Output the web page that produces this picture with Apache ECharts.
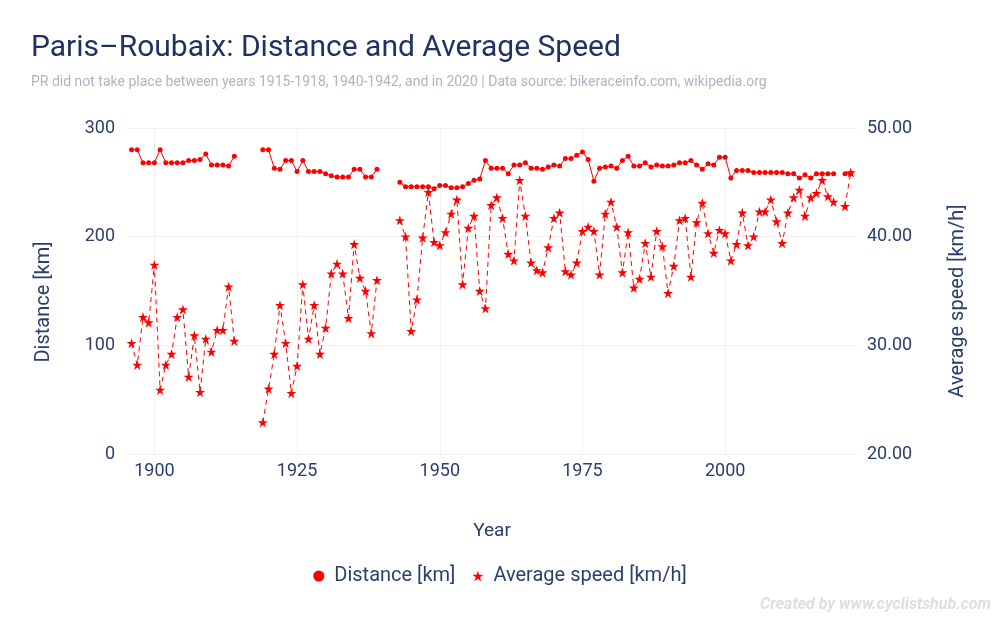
<!DOCTYPE html>
<html>
<head>
<meta charset="utf-8">
<title>Paris–Roubaix: Distance and Average Speed</title>
<script src="https://cdn.jsdelivr.net/npm/echarts@6/dist/echarts.min.js"></script>
<style>
  html, body { margin: 0; padding: 0; background: #fff; }
  #chart { width: 1000px; height: 617px; }
</style>
</head>
<body>
<div id="chart"></div>
<script>
// years 1896..2022, null = race not held
const years = [
  1896, 1897, 1898, 1899, 1900, 1901, 1902, 1903, 1904, 1905,
  1906, 1907, 1908, 1909, 1910, 1911, 1912, 1913, 1914, 1915,
  1916, 1917, 1918, 1919, 1920, 1921, 1922, 1923, 1924, 1925,
  1926, 1927, 1928, 1929, 1930, 1931, 1932, 1933, 1934, 1935,
  1936, 1937, 1938, 1939, 1940, 1941, 1942, 1943, 1944, 1945,
  1946, 1947, 1948, 1949, 1950, 1951, 1952, 1953, 1954, 1955,
  1956, 1957, 1958, 1959, 1960, 1961, 1962, 1963, 1964, 1965,
  1966, 1967, 1968, 1969, 1970, 1971, 1972, 1973, 1974, 1975,
  1976, 1977, 1978, 1979, 1980, 1981, 1982, 1983, 1984, 1985,
  1986, 1987, 1988, 1989, 1990, 1991, 1992, 1993, 1994, 1995,
  1996, 1997, 1998, 1999, 2000, 2001, 2002, 2003, 2004, 2005,
  2006, 2007, 2008, 2009, 2010, 2011, 2012, 2013, 2014, 2015,
  2016, 2017, 2018, 2019, 2020, 2021, 2022
];

const distance = [
  280, 280, 268, 268, 268, 280, 268, 268, 268, 268,
  270, 270, 271, 276, 266, 266, 266, 265, 274, null,
  null, null, null, 280, 280, 263, 262, 270, 270, 260,
  270, 260, 260, 260, 258, 256, 255, 255, 255, 262,
  262, 255, 255, 262, null, null, null, 250, 246, 246,
  246, 246, 246, 244, 247, 247, 245, 245, 246, 249,
  252, 253, 270, 263, 263, 263, 258, 266, 266, 268,
  263, 263, 262, 264, 266, 265, 272, 272, 275, 278,
  271, 251, 263, 264, 265, 263, 270, 274, 265, 265,
  268, 264, 266, 265, 265, 266, 268, 268, 270, 266,
  262, 267, 266, 273, 273, 254, 261, 261, 261, 259,
  259, 259, 259, 259, 259, 258, 258, 254, 257, 254,
  258, 258, 258, 258, null, 258, 258
];

const speed = [
  30.2, 28.2, 32.6, 32.1, 37.4, 25.9, 28.2, 29.2, 32.6, 33.3,
  27.1, 30.9, 25.7, 30.6, 29.4, 31.4, 31.4, 35.4, 30.4, null,
  null, null, null, 22.9, 26.0, 29.2, 33.7, 30.2, 25.6, 28.1,
  35.6, 30.6, 33.7, 29.2, 31.6, 36.6, 37.5, 36.6, 32.5, 39.3,
  36.2, 35.0, 31.1, 36.0, null, null, null, 41.5, 40.0, 31.3,
  34.2, 39.9, 44.1, 39.5, 39.2, 40.4, 42.1, 43.4, 35.6, 40.8,
  41.9, 35.0, 33.4, 42.9, 43.6, 41.7, 38.4, 37.8, 45.2, 41.9,
  37.6, 36.9, 36.7, 39.0, 41.7, 42.2, 36.8, 36.5, 37.6, 40.5,
  40.9, 40.5, 36.5, 42.1, 43.2, 40.9, 36.7, 40.4, 35.3, 36.1,
  39.4, 36.3, 40.5, 39.1, 34.8, 37.3, 41.5, 41.7, 36.3, 41.3,
  43.1, 40.3, 38.5, 40.6, 40.3, 37.8, 39.3, 42.2, 39.2, 40.0,
  42.3, 42.3, 43.4, 41.4, 39.4, 42.2, 43.6, 44.3, 41.9, 43.6,
  44.0, 45.2, 43.7, 43.2, null, 42.8, 45.9
];

const xTicks = [1900, 1925, 1950, 1975, 2000];

const star = 'path://M50,2 L61.2,36.6 L97.6,36.6 L68.2,58 L79.4,92.6 L50,71.2 L20.6,92.6 L31.8,58 L2.4,36.6 L38.8,36.6 Z';
const navy = '#2a3f6e';
const red = '#ff0000';

const chart = echarts.init(document.getElementById('chart'));

const toPairs = arr => years.map((y, i) => [y, arr[i] === null ? '-' : arr[i]]);

const option = {
  backgroundColor: '#fff',
  textStyle: { fontFamily: 'Roboto' },
  title: {
    text: 'Paris–Roubaix: Distance and Average Speed',
    subtext: 'PR did not take place between years 1915-1918, 1940-1942, and in 2020 | Data source: bikeraceinfo.com, wikipedia.org',
    left: 26,
    top: 28,
    itemGap: 12,
    textStyle: { fontSize: 30, fontWeight: 'normal', color: '#1f3262', fontFamily: 'Roboto' },
    subtextStyle: { fontSize: 14, color: '#aeb3c6', fontFamily: 'Roboto' }
  },
  legend: {
    bottom: 26,
    left: 'center',
    itemGap: 17,
    itemWidth: 11,
    itemHeight: 11,
    textStyle: { fontSize: 20, color: navy, fontFamily: 'Roboto', padding: [0, 0, 0, 5] },
    data: [
      { name: 'Distance [km]', icon: 'circle', itemStyle: { color: red } },
      { name: 'Average speed [km/h]', icon: star, itemStyle: { color: red } }
    ]
  },
  graphic: [{
    type: 'text',
    right: 9,
    bottom: 4,
    style: {
      text: 'Created by www.cyclistshub.com',
      fill: '#dedede',
      font: 'italic bold 16px Roboto'
    }
  }],
  grid: { left: 127, right: 143, top: 128, bottom: 163 },
  xAxis: {
    type: 'value',
    min: 1895.2,
    max: 2023.1,
    name: 'Year',
    nameLocation: 'middle',
    nameGap: 68,
    nameTextStyle: { fontSize: 19, color: navy },
    axisLine: { show: false },
    axisTick: { show: false },
    axisLabel: {
      fontSize: 18, color: navy, margin: 8,
      customValues: xTicks,
      formatter: v => String(v)
    },
    splitLine: { show: false }
  },
  yAxis: [{
    type: 'value',
    min: 0,
    max: 300,
    interval: 100,
    name: 'Distance [km]',
    nameLocation: 'middle',
    nameGap: 73,
    nameTextStyle: { fontSize: 20, color: navy, padding: [0, 22, 0, 0] },
    axisLine: { show: false },
    axisTick: { show: false },
    axisLabel: { fontSize: 18, color: navy, margin: 12 },
    splitLine: { lineStyle: { color: '#f1f1f1', width: 1 } }
  }, {
    type: 'value',
    min: 20,
    max: 50,
    interval: 10,
    name: 'Average speed [km/h]',
    nameLocation: 'middle',
    nameGap: 91,
    nameTextStyle: { fontSize: 20, color: navy, padding: [0, 20, 0, 0] },
    axisLine: { show: false },
    axisTick: { show: false },
    axisLabel: { fontSize: 18, color: navy, margin: 10, formatter: v => v.toFixed(2) },
    splitLine: { show: false }
  }],
  series: [{
    name: 'Distance [km]',
    type: 'line',
    yAxisIndex: 0,
    data: toPairs(distance),
    symbol: 'circle',
    symbolSize: 5,
    connectNulls: false,
    lineStyle: { color: red, width: 1 },
    itemStyle: { color: red },
    z: 3,
    // vertical grid lines at the labelled years
    markLine: {
      symbol: 'none',
      silent: true,
      animation: false,
      label: { show: false },
      emphasis: { disabled: true },
      lineStyle: { color: '#f1f1f1', width: 1, type: 'solid' },
      data: xTicks.map(x => ({ xAxis: x })),
      z: 0
    }
  }, {
    name: 'Average speed [km/h]',
    type: 'line',
    yAxisIndex: 1,
    data: toPairs(speed),
    symbol: star,
    symbolSize: 10,
    connectNulls: false,
    lineStyle: { color: red, width: 1, type: [5, 4] },
    itemStyle: { color: red },
    z: 2
  }]
};

chart.setOption(option);

window.addEventListener('resize', function () {
  chart.resize();
});
</script>
</body>
</html>
